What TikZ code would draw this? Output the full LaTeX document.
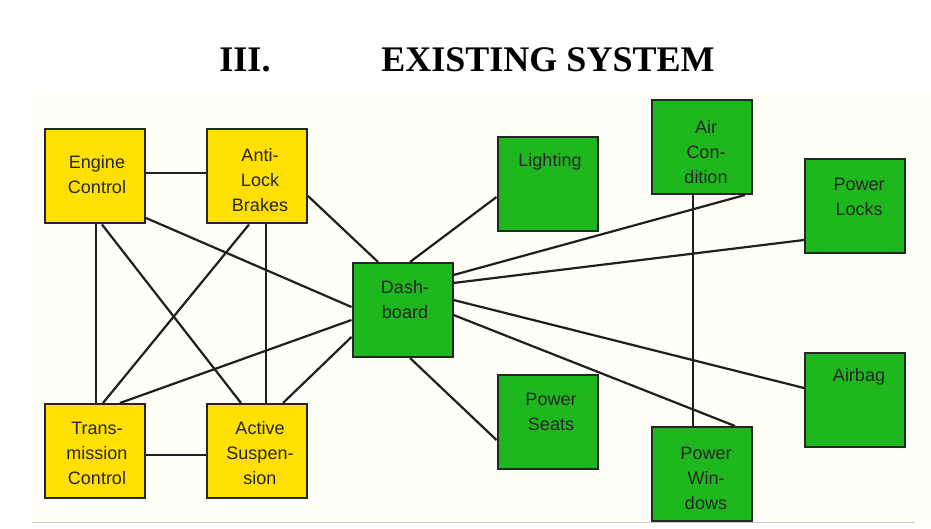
\documentclass[tikz,border=0pt]{standalone}
\usepackage{fontspec}
\setmainfont{Liberation Serif}
\newfontfamily\arialf{Liberation Sans}
\begin{document}
\begin{tikzpicture}[x=1pt,y=-1pt,
  box/.style={draw=black!85,line width=2pt,minimum width=100pt,minimum height=94pt,inner sep=0pt},
  ybox/.style={box,fill=yboxc},
  gbox/.style={box,fill=gboxc},
  txt/.style={font=\arialf\fontsize{18}{25}\selectfont,align=center,text=black!85,inner sep=0pt},
  wire/.style={draw=black!88,line width=2.2pt}]
\definecolor{yboxc}{HTML}{FFE000}
\definecolor{gboxc}{HTML}{1EB81E}
\useasboundingbox (0,0) rectangle (931,529);
\fill[white] (0,0) rectangle (931,529);
\fill[yellow!3!white] (32,92) rectangle (931,522);
\draw[gray!40,line width=1pt] (32,522) -- (915,522);
\node[font=\fontsize{36}{40}\selectfont\bfseries] (t1) at (245,60) {III.};
\node[font=\fontsize{36}{40}\selectfont\bfseries] (t2) at (548,60) {EXISTING SYSTEM};
% boxes
\node[ybox] (eng) at (95,176.5) {};
\node[ybox] (abs) at (257,176.5) {};
\node[ybox] (tra) at (95,451) {};
\node[ybox] (act) at (257,451) {};
\node[gbox] (dash) at (402.5,310) {};
\node[gbox] (lig) at (547.5,184) {};
\node[gbox] (air) at (702,147) {};
\node[gbox] (loc) at (855,206) {};
\node[gbox] (bag) at (855,399.5) {};
\node[gbox] (sea) at (547.5,421.5) {};
\node[gbox] (win) at (702,474) {};
% wires
\draw[wire] (eng.east|-0,173) -- (abs.west|-0,173);
\draw[wire] (tra.east|-0,455) -- (act.west|-0,455);
\draw[wire] (eng.south-|96,0) -- (tra.north-|96,0);
\draw[wire] (abs.south-|266,0) -- (act.north-|266,0);
\draw[wire] (eng.south-|102,0) -- (act.north-|241,0);
\draw[wire] (abs.south-|249,0) -- (tra.north-|103,0);
\draw[wire] (eng.east|-0,218) -- (dash.west|-0,307);
\draw[wire] (abs.east|-0,196) -- (dash.north-|378,0);
\draw[wire] (tra.north-|120,0) -- (dash.west|-0,320);
\draw[wire] (act.north-|283,0) -- (dash.west|-0,337);
\draw[wire] (dash.north-|410,0) -- (lig.west|-0,197);
\draw[wire] (dash.east|-0,275) -- (air.south-|745,0);
\draw[wire] (dash.east|-0,283) -- (loc.west|-0,240);
\draw[wire] (dash.east|-0,300) -- (bag.west|-0,388);
\draw[wire] (dash.east|-0,315) -- (win.north-|735,0);
\draw[wire] (dash.south-|410,0) -- (sea.west|-0,440);
\draw[wire] (air.south-|693,0) -- (win.north-|693,0);
% labels
\node[txt] (leng) at (97,175) {Engine\\Control};
\node[txt] (labs) at (260,180) {Anti-\\Lock\\Brakes};
\node[txt] (ltra) at (97,453) {Trans-\\mission\\Control};
\node[txt] (lact) at (260,453) {Active\\Suspen-\\sion};
\node[txt] (ldash) at (405,300) {Dash-\\board};
\node[txt] (llig) at (550,162) {Lighting};
\node[txt] (lair) at (706,152) {Air\\Con-\\dition};
\node[txt] (lloc) at (859,197) {Power\\Locks};
\node[txt] (lbag) at (859,377) {Airbag};
\node[txt] (lsea) at (551,412) {Power\\Seats};
\node[txt] (lwin) at (706,478) {Power\\Win-\\dows};
\end{tikzpicture}
\end{document}
